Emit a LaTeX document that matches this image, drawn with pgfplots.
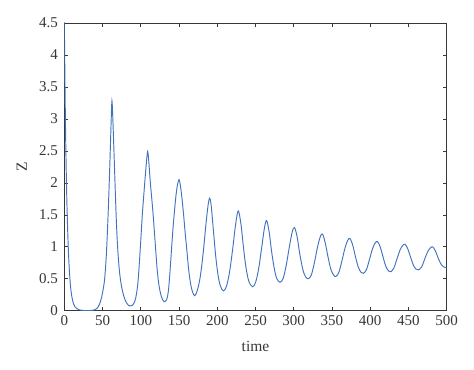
\documentclass[border=0pt]{standalone}
\usepackage{fontspec}
\setmainfont{Liberation Serif}
\usepackage{pgfplots}
\pgfplotsset{compat=1.18}
\definecolor{lineblue}{RGB}{66,116,190}
\definecolor{axgray}{RGB}{55,55,55}
\begin{document}
\begin{tikzpicture}
\begin{axis}[
  name=ax,
  scale only axis,
  width=382.4pt, height=287.7pt,
  xmin=0, xmax=500, ymin=0, ymax=4.5,
  xtick={0,50,...,500},
  ytick={0,0.5,...,4.5},
  yticklabels={0,0.5,1,1.5,2,2.5,3,3.5,4,4.5},
  tick align=inside,
  major tick length=4pt,
  axis line style={axgray, line width=0.8pt},
  tick style={axgray, line width=0.6pt},
  tick label style={font=\fontsize{15}{16}\selectfont, text=axgray},
  /pgf/number format/assume math mode=true,
  xticklabel style={yshift=-1pt},
  yticklabel style={xshift=-3pt},
  xlabel={time},
  ylabel={Z},
  label style={font=\fontsize{15.5}{17}\selectfont, text=axgray},
  xlabel style={at={(axis description cs:0.5,-0.125)}, anchor=center},
  ylabel style={at={(axis description cs:-0.111,0.5)}, anchor=center},
  clip=true,
]
\addplot[lineblue, line width=0.95pt, smooth, tension=0.55] coordinates {
(0,4.6) (0.5,4.0) (1,3.45) (1.5,2.95) (2,2.55) (3,1.9) (4,1.42) (5,1.05)
(6,0.77) (7,0.56) (8,0.4) (9,0.29) (10,0.21) (12,0.11) (14,0.06) (17,0.028)
(20,0.012) (25,0.004) (31,0.002) (36,0.005) (40,0.015) (43,0.04) (46,0.1)
(49,0.22) (51,0.35) (52.8,0.5) (55,0.88) (57.1,1.45) (58.7,1.98) (60.1,2.5)
(61.3,2.98) (62.3,3.28) (63.3,3.05) (64.2,2.75) (65.2,2.4) (66.3,2.0)
(67.6,1.55) (69,1.15) (70.5,0.85) (72,0.63) (73.5,0.48) (75.5,0.34)
(78,0.22) (81,0.13) (84,0.085)
(86,0.075) (89,0.085) (92,0.14) (94.5,0.27) (96.7,0.5) (99.5,1.0) (102,1.5)
(104,1.82) (105.7,2.08) (107,2.27) (108.2,2.43) (109,2.49) (109.8,2.43)
(111,2.25) (112.5,2.0) (114.4,1.75) (116.3,1.48) (118,1.2) (119.8,0.9)
(121.6,0.62) (124,0.38) (127,0.22) (130.5,0.14)
(134,0.18) (136,0.3) (137.5,0.5) (139,0.75) (140.4,1.0) (142.2,1.3) (144,1.55)
(146,1.8) (148,1.97) (150,2.05) (151.5,1.98) (153,1.85) (154.5,1.68) (156,1.5)
(157.8,1.25) (159.8,1.0) (161.5,0.78) (163,0.6) (165,0.43) (167.5,0.3)
(170.5,0.235) (174,0.32) (178,0.55) (182,0.95) (185,1.33) (188,1.65)
(190,1.76) (192,1.65) (195,1.25) (198,0.85) (201,0.56) (204,0.39) (208,0.31)
(212,0.38) (216,0.6) (220,0.95) (224,1.35) (227.5,1.56) (231,1.35) (234,1.02)
(237,0.72) (241,0.47) (246,0.375)
(250,0.44) (254,0.65) (258,0.98) (261.5,1.28) (264.5,1.41) (268,1.22)
(271,0.93) (275,0.63) (278,0.5) (282,0.445)
(286,0.5) (290,0.7) (294,0.98) (298,1.23) (301,1.30) (304.5,1.15) (308,0.88)
(312,0.64) (315.5,0.53) (319,0.5)
(323,0.56) (327,0.75) (331,0.99) (334.5,1.15) (337.5,1.20) (341,1.07)
(345,0.83) (348.5,0.65) (352,0.56) (355,0.535)
(359,0.6) (363,0.78) (367,0.98) (370.5,1.1) (373.5,1.13) (377,1.03)
(381,0.83) (384.5,0.68) (388,0.6) (391,0.585)
(395,0.64) (399,0.8) (403,0.97) (406.5,1.06) (409.5,1.08) (413,1.0)
(417,0.83) (420.5,0.69) (424,0.62) (427,0.61)
(431,0.67) (435,0.81) (439,0.95) (442.5,1.02) (445.5,1.04) (449,0.97)
(453,0.83) (456.5,0.71) (460,0.65) (463,0.64)
(467,0.68) (471,0.8) (475,0.92) (478.5,0.98) (481.5,1.0) (485,0.94)
(489,0.82) (493,0.72) (497,0.68) (500,0.675)
};
\end{axis}
\path ([shift={(-64.3pt,-58.3pt)}]ax.south west) rectangle ([shift={(27.3pt,23pt)}]ax.north east);
\end{tikzpicture}
\end{document}
